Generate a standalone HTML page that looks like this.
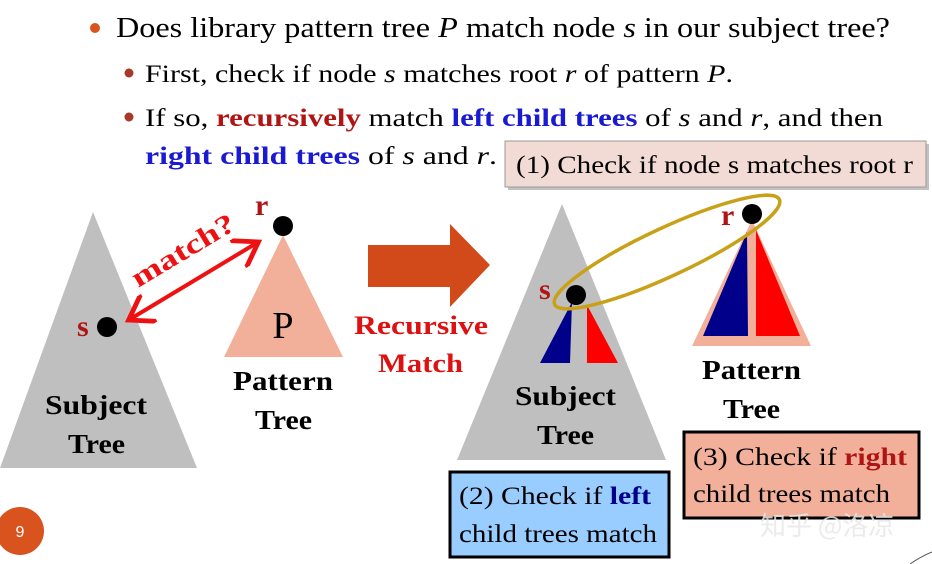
<!DOCTYPE html>
<html><head><meta charset="utf-8"><style>
html,body{margin:0;padding:0;background:#fff;}
svg{display:block;font-family:"Liberation Serif",serif;}
.b{font-weight:bold;}
</style></head><body>
<svg width="932" height="564" viewBox="0 0 932 564" xmlns="http://www.w3.org/2000/svg">
<defs><marker id="ah" markerWidth="7" markerHeight="8" refX="5" refY="4" orient="auto-start-reverse" markerUnits="strokeWidth"><path d="M0,0 L6,4 L0,8" fill="none" stroke="#ee1111" stroke-width="1.2"/></marker></defs>
<circle cx="95" cy="28" r="5" fill="#d9531e"/>
<text x="116" y="37" font-size="29" textLength="774" lengthAdjust="spacingAndGlyphs">Does library pattern tree <tspan font-style="italic">P</tspan> match node <tspan font-style="italic">s</tspan> in our subject tree?</text>
<circle cx="129" cy="73" r="4.5" fill="#a8392a"/>
<text x="145" y="82" font-size="25" textLength="588" lengthAdjust="spacingAndGlyphs">First, check if node <tspan font-style="italic">s</tspan> matches root <tspan font-style="italic">r</tspan> of pattern <tspan font-style="italic">P</tspan>.</text>
<circle cx="129" cy="117" r="4.5" fill="#a8392a"/>
<text x="145" y="126" font-size="25" textLength="738" lengthAdjust="spacingAndGlyphs">If so, <tspan class="b" fill="#b01515">recursively</tspan> match <tspan class="b" fill="#1a1ad0">left child trees</tspan> of <tspan font-style="italic">s</tspan> and <tspan font-style="italic">r</tspan>, and then</text>
<text x="145" y="164" font-size="25" textLength="352" lengthAdjust="spacingAndGlyphs"><tspan class="b" fill="#1a1ad0">right child trees</tspan> of <tspan font-style="italic">s</tspan> and <tspan font-style="italic">r</tspan>.</text>
<rect x="508" y="144" width="421" height="46" fill="#999" opacity="0.6"/>
<rect x="505" y="141" width="421" height="46" fill="#f3dbd5" stroke="#999" stroke-width="1"/>
<text x="516" y="173" font-size="25" textLength="397" lengthAdjust="spacingAndGlyphs">(1) Check if node s matches root r</text>
<polygon points="93,212 0,468 197,468" fill="#bfbfbf"/>
<circle cx="107" cy="327" r="10" fill="#000"/>
<text x="77" y="336" font-size="30" class="b" fill="#b01515">s</text>
<text x="45" y="414" font-size="27" class="b" textLength="102" lengthAdjust="spacingAndGlyphs">Subject</text>
<text x="68" y="453" font-size="27" class="b" textLength="57" lengthAdjust="spacingAndGlyphs">Tree</text>
<polygon points="283,235 224,357 343,357" fill="#f2b09b"/>
<circle cx="283" cy="226" r="10" fill="#000"/>
<text x="255" y="215" font-size="30" class="b" fill="#b01515">r</text>
<text x="283" y="338" font-size="38" text-anchor="middle">P</text>
<text x="233" y="390" font-size="27" class="b" textLength="100" lengthAdjust="spacingAndGlyphs">Pattern</text>
<text x="255" y="429" font-size="27" class="b" textLength="57" lengthAdjust="spacingAndGlyphs">Tree</text>
<line x1="132" y1="318" x2="255" y2="244" stroke="#ee1111" stroke-width="4" marker-start="url(#ah)" marker-end="url(#ah)"/>
<text x="0" y="0" font-size="28" class="b" fill="#ee1111" transform="translate(138,288) rotate(-31)" textLength="116" lengthAdjust="spacingAndGlyphs">match?</text>
<polygon points="368,245 450,245 450,224 490,265 450,307 450,287 368,287" fill="#d24a1a"/>
<text x="354" y="334" font-size="26" class="b" fill="#dd1111" textLength="134" lengthAdjust="spacingAndGlyphs">Recursive</text>
<text x="378" y="372" font-size="26" class="b" fill="#dd1111" textLength="85" lengthAdjust="spacingAndGlyphs">Match</text>
<polygon points="562,204 457,460 666,460" fill="#bfbfbf"/>
<polygon points="572,302 540,363 570,363" fill="#00008b"/>
<polygon points="587,305 587,363 618,363" fill="#ff0000"/>
<circle cx="576" cy="295" r="10" fill="#000"/>
<text x="539" y="299" font-size="30" class="b" fill="#b01515">s</text>
<text x="515" y="405" font-size="27" class="b" textLength="101" lengthAdjust="spacingAndGlyphs">Subject</text>
<text x="537" y="444" font-size="27" class="b" textLength="57" lengthAdjust="spacingAndGlyphs">Tree</text>
<polygon points="752,220 692,346 811,346" fill="#f2b09b"/>
<polygon points="747,232 703,336 748,336" fill="#00008b"/>
<polygon points="756,230 756,336 800,336" fill="#ff0000"/>
<circle cx="752" cy="214" r="10" fill="#000"/>
<text x="721" y="225" font-size="30" class="b" fill="#b01515">r</text>
<text x="702" y="379" font-size="27" class="b" textLength="99" lengthAdjust="spacingAndGlyphs">Pattern</text>
<text x="723" y="418" font-size="27" class="b" textLength="57" lengthAdjust="spacingAndGlyphs">Tree</text>
<ellipse cx="667" cy="252" rx="124" ry="24" transform="rotate(-25 667 252)" fill="none" stroke="#c9a118" stroke-width="3.5"/>
<rect x="684" y="432" width="235" height="86" fill="#f2b09b" stroke="#000" stroke-width="3"/>
<text x="693" y="465" font-size="25" textLength="214" lengthAdjust="spacingAndGlyphs">(3) Check if <tspan class="b" fill="#b01515">right</tspan></text>
<text x="693" y="502" font-size="25" textLength="197" lengthAdjust="spacingAndGlyphs">child trees match</text>
<rect x="450" y="472" width="219" height="85" fill="#99ccff" stroke="#000" stroke-width="3"/>
<text x="459" y="504" font-size="25" textLength="192" lengthAdjust="spacingAndGlyphs">(2) Check if <tspan class="b" fill="#00008b">left</tspan></text>
<text x="459" y="542" font-size="25" textLength="198" lengthAdjust="spacingAndGlyphs">child trees match</text>
<text x="760" y="535" font-size="26" fill="#e8e8e8" opacity="0.85" font-family="'Noto Sans CJK SC',sans-serif">知乎 @洛凉</text>
<circle cx="20" cy="531" r="24" fill="#d9531e"/>
<text x="20" y="537" font-size="16" fill="#fff" text-anchor="middle" font-family="'Liberation Sans',sans-serif">9</text>
<path d="M910,564 Q922,556 932,552" fill="none" stroke="#555" stroke-width="1"/>
</svg>
</body></html>
